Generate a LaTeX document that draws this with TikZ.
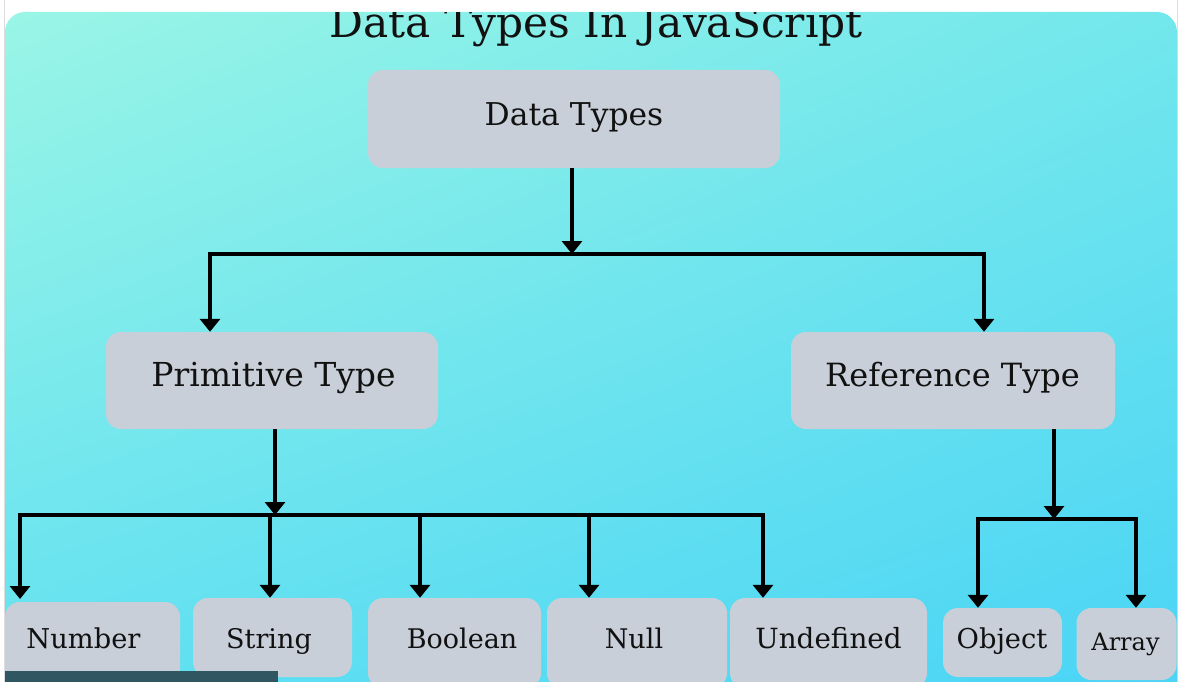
\documentclass[tikz,border=0pt]{standalone}
\usepackage{fontspec}
\setmainfont{DejaVu Serif}
\usetikzlibrary{arrows.meta,shadings}
\definecolor{boxfill}{HTML}{C8CFD9}
\definecolor{txtcol}{HTML}{111111}
\definecolor{barcol}{HTML}{2F5661}
\definecolor{framecol}{HTML}{DDDDDD}
\definecolor{bgUL}{HTML}{9AF5E6}
\definecolor{bgUR}{HTML}{72E7EC}
\definecolor{bgLL}{HTML}{60E0F1}
\definecolor{bgLR}{HTML}{48D3F6}
\tikzset{
  tbox/.style={rectangle, rounded corners=15pt, fill=boxfill, draw=none, inner sep=0pt},
  lbl/.style={anchor=base, text=txtcol, inner sep=0pt},
  wire/.style={line width=3.5pt, draw=black, line cap=rect},
  arr/.style={line width=3.5pt, draw=black, -{Triangle[width=20pt,length=13pt]}},
}
\begin{document}
\begin{tikzpicture}[x=1pt,y=-1pt]
\useasboundingbox (0,0) rectangle (1186,682);
\begin{scope}
\clip (0,0) rectangle (1186,682);
% frame lines
\draw[framecol, line width=1pt] (4,0) -- (4,682);
\draw[framecol, line width=1pt] (1177.5,0) -- (1177.5,682);
% background
\shade[rounded corners=20pt, upper left=bgUL, upper right=bgUR, lower left=bgLL, lower right=bgLR] (5,12) rectangle (1177,720);
\begin{scope}
\clip[rounded corners=20pt] (5,12) rectangle (1177,720);
\node[lbl, font=\fontsize{42.3}{48}\selectfont] (title) at (596,38) {Data Types In JavaScript};
\end{scope}

% boxes
\node[tbox, minimum width=412pt, minimum height=98pt] (dt) at (574,119) {};
\node[lbl, font=\fontsize{31.4}{36}\selectfont] (dtt) at (574,126) {Data Types};

\node[tbox, minimum width=332pt, minimum height=97pt] (pt) at (272,380.5) {};
\node[lbl, font=\fontsize{33}{38}\selectfont] (ptt) at (273.5,386) {Primitive Type};

\node[tbox, minimum width=324pt, minimum height=97pt] (rt) at (953,380.5) {};
\node[lbl, font=\fontsize{32}{38}\selectfont] (rtt) at (952.5,386) {Reference Type};

\node[tbox, minimum width=175pt, minimum height=82pt] (num) at (92.5,643) {};
\node[lbl, font=\fontsize{27.3}{32}\selectfont] (numt) at (83.5,648) {Number};

\node[tbox, minimum width=159pt, minimum height=79pt] (str) at (272.5,637.5) {};
\node[lbl, font=\fontsize{27}{32}\selectfont] (strt) at (269,648) {String};

\node[tbox, minimum width=173pt, minimum height=90pt] (bool) at (454.5,643) {};
\node[lbl, font=\fontsize{27}{32}\selectfont] (boolt) at (462,648) {Boolean};

\node[tbox, minimum width=180pt, minimum height=90pt] (null) at (637,643) {};
\node[lbl, font=\fontsize{27}{32}\selectfont] (nullt) at (634,648) {Null};

\node[tbox, minimum width=197pt, minimum height=90pt] (undef) at (828.5,643) {};
\node[lbl, font=\fontsize{27.8}{32}\selectfont] (undeft) at (828.5,648) {Undefined};

\node[tbox, minimum width=119pt, minimum height=69pt] (obj) at (1002.5,642.5) {};
\node[lbl, font=\fontsize{27.3}{32}\selectfont] (objt) at (1002,648) {Object};

\node[tbox, minimum width=100pt, minimum height=72pt] (arrb) at (1126.5,644) {};
\node[lbl, font=\fontsize{24}{28}\selectfont] (arrt) at (1125.5,650) {Array};

% connectors: level 1
\coordinate (h1) at (572,254);
\coordinate (h1L) at (210,254);
\coordinate (h1R) at (984,254);
\draw[wire] (h1L) -- (h1R);
\draw[arr] (h1 |- dt.south) -- (h1);
\draw[arr] (h1L) -- (h1L |- pt.north);
\draw[arr] (h1R) -- (h1R |- rt.north);

% level 2 primitive
\coordinate (h2) at (275,515);
\coordinate (h2a) at (20,515);
\coordinate (h2b) at (270,515);
\coordinate (h2c) at (420,515);
\coordinate (h2d) at (589,515);
\coordinate (h2e) at (763,515);
\draw[wire] (h2a) -- (h2e);
\draw[arr] (h2 |- pt.south) -- (h2);
\draw[arr] (h2a) -- (20,599);
\draw[arr] (h2b) -- (h2b |- str.north);
\draw[arr] (h2c) -- (h2c |- bool.north);
\draw[arr] (h2d) -- (h2d |- null.north);
\draw[arr] (h2e) -- (h2e |- undef.north);

% level 2 reference
\coordinate (h3) at (1054,519);
\coordinate (h3a) at (978,519);
\coordinate (h3b) at (1136,519);
\draw[wire] (h3a) -- (h3b);
\draw[arr] (h3 |- rt.south) -- (h3);
\draw[arr] (h3a) -- (h3a |- obj.north);
\draw[arr] (h3b) -- (h3b |- arrb.north);

% dark bar
\fill[barcol] (5,671) rectangle (278,682);
\end{scope}
\end{tikzpicture}
\end{document}
